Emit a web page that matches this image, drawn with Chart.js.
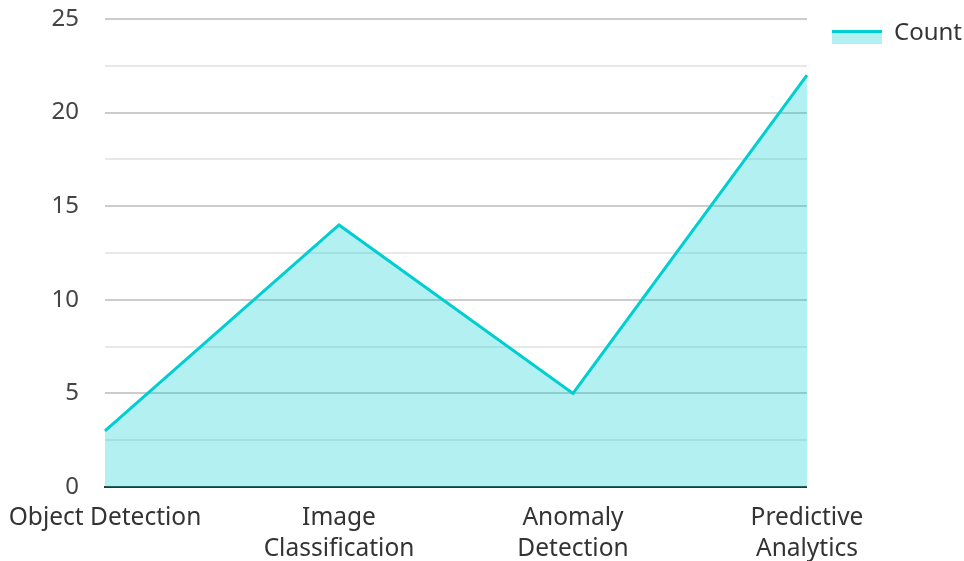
<!DOCTYPE html>
<html>
<head>
<meta charset="utf-8">
<script src="https://cdn.jsdelivr.net/npm/chart.js@4.4.1/dist/chart.umd.min.js"></script>
<style>
  html, body { margin: 0; padding: 0; background: #fff; }
  #wrap { width: 964px; height: 561px; }
</style>
</head>
<body>
<div id="wrap"><canvas id="c" width="964" height="561"></canvas></div>
<script>
const categories = [
  ['Object Detection'],
  ['Image', 'Classification'],
  ['Anomaly', 'Detection'],
  ['Predictive', 'Analytics']
];
const countValues = [3, 14, 5, 22];
const seriesName = 'Count';

const lineColor = '#00CED1';
const fillColor = 'rgba(0, 206, 209, 0.3)';

// Legend swatch: a line on top of a filled band, inset from the left edge
const SW_W = 71, SW_H = 28, SW_X = 21, SW_Y = 11;
const swatch = document.createElement('canvas');
swatch.width = SW_W;
swatch.height = SW_H;
(function () {
  const g = swatch.getContext('2d');
  g.fillStyle = fillColor;
  g.fillRect(SW_X, SW_Y, 50, 14);
  g.fillStyle = lineColor;
  g.fillRect(SW_X, SW_Y, 50, 3);
})();

Chart.defaults.font.family = '"Noto Sans", "Open Sans", sans-serif';
Chart.defaults.font.size = 24;
Chart.defaults.color = '#444';

new Chart(document.getElementById('c'), {
  type: 'line',
  data: {
    labels: categories,
    datasets: [{
      label: seriesName,
      data: countValues,
      borderColor: lineColor,
      backgroundColor: fillColor,
      borderWidth: 3,
      fill: 'origin',
      tension: 0,
      pointRadius: 0,
      pointHoverRadius: 0
    }]
  },
  options: {
    responsive: false,
    animation: false,
    layout: { padding: { top: 17, right: -8, left: 0, bottom: 0 } },
    plugins: {
      tooltip: { enabled: false },
      legend: {
        position: 'right',
        align: 'start',
        labels: {
          usePointStyle: true,
          pointStyle: swatch,
          pointStyleWidth: SW_W,
          color: '#333',
          padding: 4,
          font: { size: 24 }
        }
      }
    },
    scales: {
      x: {
        offset: false,
        grid: { display: false, drawTicks: false },
        border: { display: true, color: '#333', width: 2 },
        ticks: {
          maxRotation: 0, autoSkip: false, padding: 15, color: '#333',
          font: { size: 24.5, lineHeight: 1.27 }
        },
        afterFit: s => {
          s.height = 74;
          s.paddingLeft = 105;
          s.paddingRight = 0;
        }
      },
      y: {
        min: 0,
        max: 25,
        border: { display: false },
        grid: {
          drawTicks: false,
          color: ctx => (ctx.tick && ctx.tick.value % 5 === 0) ? '#cccccc' : '#e8e8e8',
          lineWidth: 2
        },
        ticks: {
          stepSize: 2.5,
          padding: 26,
          color: '#444',
          callback: v => (v % 5 === 0 ? v : '')
        },
        afterFit: s => {
          s.paddingTop = 19;
          s.paddingBottom = 14;
        }
      }
    }
  }
});
</script>
</body>
</html>
